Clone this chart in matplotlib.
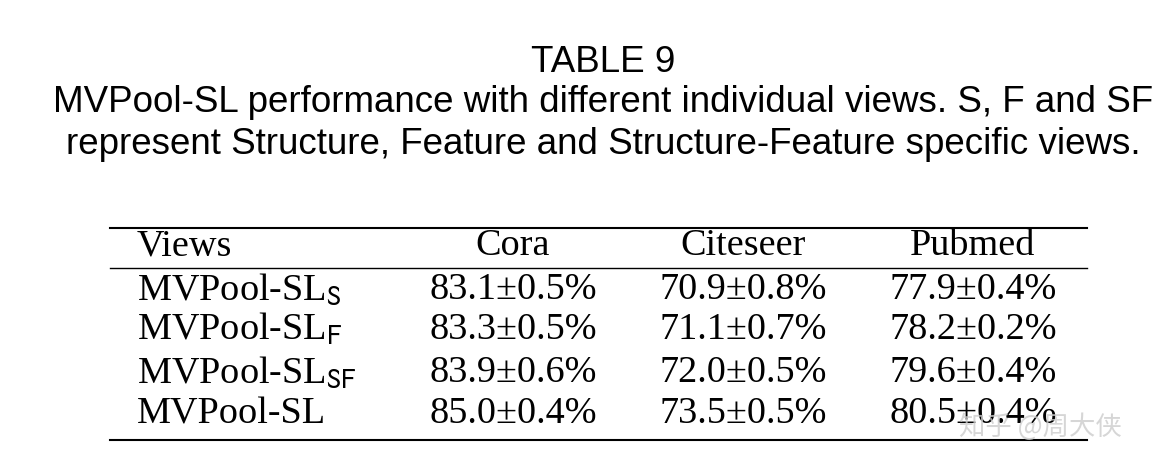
import matplotlib.pyplot as plt

W, H = 1176, 470

title = "TABLE 9"
caption = ["MVPool-SL performance with different individual views. S, F and SF",
           "represent Structure, Feature and Structure-Feature specific views."]
headers = ["Views", "Cora", "Citeseer", "Pubmed"]
views = [r"MVPool-SL$_{\mathrm{S}}$", r"MVPool-SL$_{\mathrm{F}}$",
         r"MVPool-SL$_{\mathrm{SF}}$", "MVPool-SL"]
cora = ["83.1±0.5%", "83.3±0.5%", "83.9±0.6%", "85.0±0.4%"]
citeseer = ["70.9±0.8%", "71.1±0.7%", "72.0±0.5%", "73.5±0.5%"]
pubmed = ["77.9±0.4%", "78.2±0.2%", "79.6±0.4%", "80.5±0.4%"]

plt.rcParams['mathtext.fontset'] = 'stixsans'
fig = plt.figure(figsize=(W / 100, H / 100), dpi=100)
ax = fig.add_axes([0, 0, 1, 1])
ax.set_xlim(0, W)
ax.set_ylim(H, 0)
ax.axis('off')

sans = dict(family='Liberation Sans', fontsize=26.5, ha='center', va='center')
ax.text(603, 62, title, **sans)
ax.text(603, 103, caption[0], **sans)
ax.text(603, 145, caption[1], **sans)

# rules
for y, lw in [(228, 1.5), (268, 1.0), (440, 1.5)]:
    ax.plot([110, 1087], [y, y], color='black', lw=lw)

serif = dict(family='Liberation Serif', fontsize=27.5, va='center')
col_x = [513, 743, 973]
ax.text(137, 246, headers[0], ha='left', **serif)
for x, h in zip(col_x, headers[1:]):
    ax.text(x, 246, h, ha='center', **serif)

row_y = [290, 330, 373, 414]
for i, y in enumerate(row_y):
    ax.text(137, y, views[i], ha='left', **serif)
    for x, col in zip(col_x, [cora, citeseer, pubmed]):
        ax.text(x, y, col[i], ha='center', **serif)

# watermark
ax.text(1040, 427, "知乎 @周大侠", family=['Noto Sans CJK SC', 'DejaVu Sans'],
        fontsize=19, color='#cccccc', alpha=0.8, ha='center', va='center')

fig.savefig('out.png', dpi=100, facecolor='white')
